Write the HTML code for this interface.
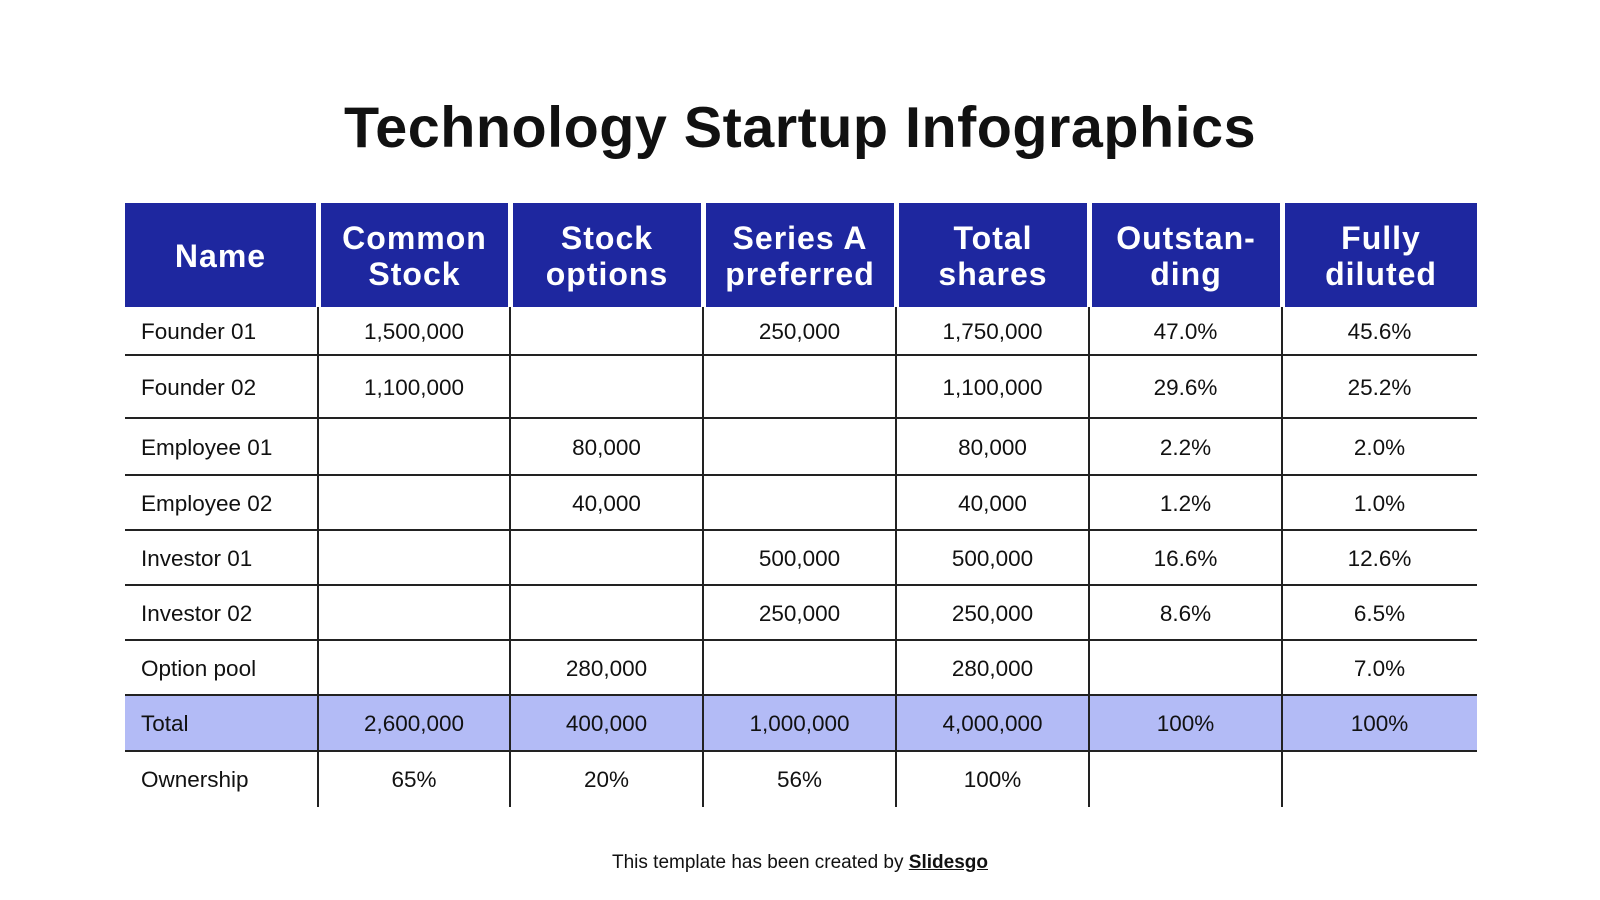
<!DOCTYPE html>
<html><head><meta charset="utf-8"><style>
body{margin:0;width:1600px;height:900px;background:#fff;position:relative;overflow:hidden;font-family:"Liberation Sans",sans-serif;color:#111}
.title{position:absolute;top:95px;left:0;width:1600px;text-align:center;font-size:57.5px;font-weight:bold;letter-spacing:0.5px}
.hc{position:absolute;top:203px;height:104px;background:#1e279f;color:#fff;font-weight:bold;font-size:32px;letter-spacing:1px;display:flex;align-items:center;justify-content:center;text-align:center;line-height:36px;padding-top:2px;box-sizing:border-box}
.hl{position:absolute;left:125px;width:1352px;height:2px;background:#222}
.vl{position:absolute;top:307px;width:2px;height:500px;background:#222}
.c{position:absolute;font-size:22.5px;display:flex;align-items:center;padding-top:2px;box-sizing:border-box}
.tot{position:absolute;left:125px;top:695px;width:1352px;height:56px;background:#b3bbf6}
.foot{position:absolute;top:852px;left:0;width:1600px;text-align:center;font-size:19px}
</style></head><body>
<div class="title">Technology Startup Infographics</div>
<div class="tot"></div>
<div id="t"></div>
<div class="foot">This template has been created by <b style="text-decoration:underline">Slidesgo</b></div>
<script>
const headers=["Name","Common<br>Stock","Stock<br>options","Series A<br>preferred","Total<br>shares","Outstan-<br>ding","Fully<br>diluted"];
const rows=[
["Founder 01","1,500,000","","250,000","1,750,000","47.0%","45.6%"],
["Founder 02","1,100,000","","","1,100,000","29.6%","25.2%"],
["Employee 01","","80,000","","80,000","2.2%","2.0%"],
["Employee 02","","40,000","","40,000","1.2%","1.0%"],
["Investor 01","","","500,000","500,000","16.6%","12.6%"],
["Investor 02","","","250,000","250,000","8.6%","6.5%"],
["Option pool","","280,000","","280,000","","7.0%"],
["Total","2,600,000","400,000","1,000,000","4,000,000","100%","100%"],
["Ownership","65%","20%","56%","100%","",""]];
const colX=[125,318,510,703,896,1089,1282,1477];
const rowY=[307,355,418,475,530,585,640,695,751,807];
const t=document.getElementById('t');
headers.forEach((h,i)=>{
 const d=document.createElement('div');d.className='hc';
 
 
 const l=colX[i]+(i?3:0), r=colX[i+1]-(i<6?2:0);
 d.style.left=l+'px';d.style.width=(r-l)+'px';d.innerHTML=h;t.appendChild(d);
});
for(let k=1;k<rowY.length-1;k++){
 const d=document.createElement('div');d.className='hl';
 
 
 d.style.top=(rowY[k]-1)+'px';t.appendChild(d);
}
for(let i=1;i<7;i++){
 const d=document.createElement('div');d.className='vl';
 
 
 d.style.left=(colX[i]-1)+'px';t.appendChild(d);
}
rows.forEach((r,ri)=>{
 r.forEach((v,ci)=>{
  if(!v)return;
  const d=document.createElement('div');d.className='c';
  
  
  d.style.top=rowY[ri]+'px';d.style.height=(rowY[ri+1]-rowY[ri])+'px';
  if(ci===0){d.style.left='141px';d.style.width='175px';}
  else{d.style.left=colX[ci]+'px';d.style.width=(colX[ci+1]-colX[ci])+'px';d.style.justifyContent='center';}
  d.textContent=v;t.appendChild(d);
 });
});
</script>
</body></html>
